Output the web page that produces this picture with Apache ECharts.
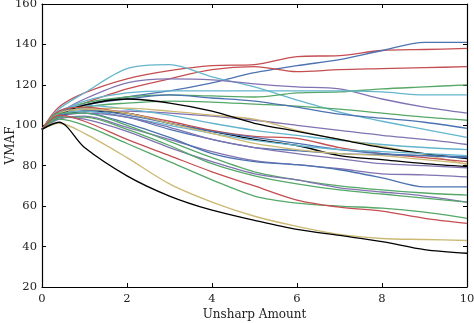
<!DOCTYPE html>
<html>
<head>
<meta charset="utf-8">
<script src="https://cdn.jsdelivr.net/npm/echarts@6/dist/echarts.min.js"></script>
<style>html,body{margin:0;padding:0;background:#fff}#c{width:474px;height:323px}</style>
</head>
<body>
<div id="c"></div>
<script>
// Unsharp amounts (x)
const xs = [0, 0.4, 1, 2, 3, 4, 5, 6, 7, 8, 9, 10];
const xTicks = [0, 2, 4, 6, 8, 10];
const yTicks = [20, 40, 60, 80, 100, 120, 140, 160];

// VMAF curves
const redA    = [98, 109, 116, 123, 127, 129.5, 130, 134, 134.5, 137, 137.5, 138];
const blueTop = [98, 105, 110, 114, 117, 121, 126, 129.5, 132.5, 137, 141, 141];
const redB    = [98, 106, 111, 118, 123, 127.5, 129, 126.5, 127.5, 128, 128.5, 129];
const cyanPk  = [98, 108, 116, 128, 130, 124, 119, 112.5, 106.5, 102, 98, 94];
const purpTop = [98, 106, 113, 121, 123, 122.5, 120.5, 119, 118, 113, 109, 106];
const greenTop= [98, 106, 111, 114, 115, 114.5, 114, 116, 116.5, 118, 119, 120];
const cyanFlat= [98, 106, 112, 116, 117, 117, 117, 117, 117, 116.5, 115, 115];
const green2  = [98, 105, 109, 111, 112, 111.5, 110.5, 109.5, 108, 106, 104, 102.5];
const blue2   = [98, 106, 110, 113, 115, 113.5, 112, 109, 105.5, 103.5, 101.5, 98.5];
const purp2   = [98, 104, 107, 107, 106, 104.5, 102.5, 100, 97.5, 95, 93, 90.5];
const cyan3   = [98, 107, 110, 108, 105, 101, 97.5, 95, 92.5, 90.5, 89, 88];
const tan1    = [98, 105, 108, 108.5, 107, 105, 103, 97.5, 93, 89.5, 85.5, 80.5];
const black1  = [98, 105, 110, 113, 111, 107, 101, 97, 93, 89, 86, 83.5];
const black2  = [98, 104, 107, 106, 101, 97, 93, 90, 85, 83, 81, 79.5];
const red3    = [98, 107, 109, 106, 102, 97.5, 94.5, 93.5, 89, 86, 84, 82];
const blue3   = [98, 106, 108, 105, 101, 97, 94, 91, 88, 86, 85, 84];
const blue4   = [98, 105, 107, 104, 98, 93, 89, 87.5, 86, 85.5, 85, 84.5];
const cyan4   = [98, 105, 107, 104, 100, 96, 92.5, 90, 88, 87, 86, 85];
const purp3   = [98, 104, 106, 104, 99, 93, 89, 86, 83.5, 81, 80, 79];
const tan2    = [98, 106, 108, 106, 101, 96, 91, 88, 86, 85, 83, 81];
const purp4   = [98, 103, 104.5, 99, 93, 87, 82.5, 80.5, 78.5, 76, 75.5, 74.5];
const blue5   = [98, 105, 106, 101, 94, 86, 82, 80.5, 78, 74, 69.5, 69.5];
const green3  = [98, 106, 106, 100, 92, 84, 77, 73, 70, 68, 66.5, 65.5];
const purp5   = [98, 104, 103, 97, 89, 82, 76, 73, 69, 67, 65, 62];
const green4  = [98, 104, 104, 98, 90, 81, 75, 71, 68, 66, 64, 62];
const green5  = [98, 103, 100, 91, 82, 73, 65, 61.5, 60, 59, 57, 54];
const red4    = [98, 105, 102, 93, 85, 77, 70, 63, 59.5, 57.5, 54, 51.5];
const tan3    = [98, 101, 96, 84, 71, 62, 55, 50, 46, 44, 43.5, 43];
const blackBot= [98, 101.5, 89, 75, 65, 58, 53, 48.5, 45.5, 42.5, 38.5, 36.7];

const C = {b:'#4C72B0', g:'#55A868', r:'#C44E52', m:'#8172B2', y:'#CCB974', c:'#64B5CD', k:'#000000'};

const lines = [
  ['r', redA], ['b', blueTop], ['r', redB], ['c', cyanPk], ['m', purpTop],
  ['g', greenTop], ['c', cyanFlat], ['g', green2], ['b', blue2], ['m', purp2],
  ['c', cyan3], ['y', tan1], ['k', black1], ['k', black2], ['r', red3],
  ['b', blue3], ['b', blue4], ['c', cyan4], ['m', purp3], ['y', tan2],
  ['m', purp4], ['b', blue5], ['g', green3], ['m', purp5], ['g', green4],
  ['g', green5], ['r', red4], ['y', tan3], ['k', blackBot]
];

const font = 'DejaVu Serif';
const txt = '#222';
const axisLine = {show: true, onZero: false, lineStyle: {color: '#000', width: 1.2}};
const tick = {show: true, inside: true, length: 4, lineStyle: {color: '#000', width: 1}};

const chart = echarts.init(document.getElementById('c'), null, {renderer: 'canvas'});
chart.setOption({
  animation: false,
  backgroundColor: '#fff',
  grid: {left: 42, right: 7, top: 4, bottom: 36, containLabel: false, outerBoundsMode: 'none'},
  xAxis: [{
    type: 'value', min: xTicks[0], max: xTicks[xTicks.length - 1], interval: 2,
    position: 'bottom',
    name: 'Unsharp Amount', nameLocation: 'middle', nameGap: 22, nameMoveOverlap: false,
    nameTextStyle: {fontFamily: font, fontSize: 12, color: txt},
    axisLine: axisLine, axisTick: tick, splitLine: {show: false},
    axisLabel: {fontFamily: font, fontSize: 11.5, color: txt, margin: 6}
  }, {
    type: 'value', min: xTicks[0], max: xTicks[xTicks.length - 1], interval: 2,
    position: 'top', axisLine: axisLine, axisTick: tick, splitLine: {show: false},
    axisLabel: {show: false}
  }],
  yAxis: [{
    type: 'value', min: yTicks[0], max: yTicks[yTicks.length - 1], interval: 20,
    position: 'left',
    name: 'VMAF', nameLocation: 'middle', nameGap: 25, nameRotate: 90, nameMoveOverlap: false,
    nameTextStyle: {fontFamily: font, fontSize: 12, color: txt},
    axisLine: axisLine, axisTick: tick, splitLine: {show: false},
    axisLabel: {fontFamily: font, fontSize: 11.5, color: txt, margin: 5}
  }, {
    type: 'value', min: yTicks[0], max: yTicks[yTicks.length - 1], interval: 20,
    position: 'right', axisLine: axisLine, axisTick: tick, splitLine: {show: false},
    axisLabel: {show: false}
  }],
  series: lines.map(([col, vals]) => ({
    type: 'line',
    data: xs.map((x, i) => [x, vals[i]]),
    showSymbol: false,
    smooth: 0.3,
    lineStyle: {color: C[col], width: 1.3},
    itemStyle: {color: C[col]},
    z: 2
  }))
});
</script>
</body>
</html>
